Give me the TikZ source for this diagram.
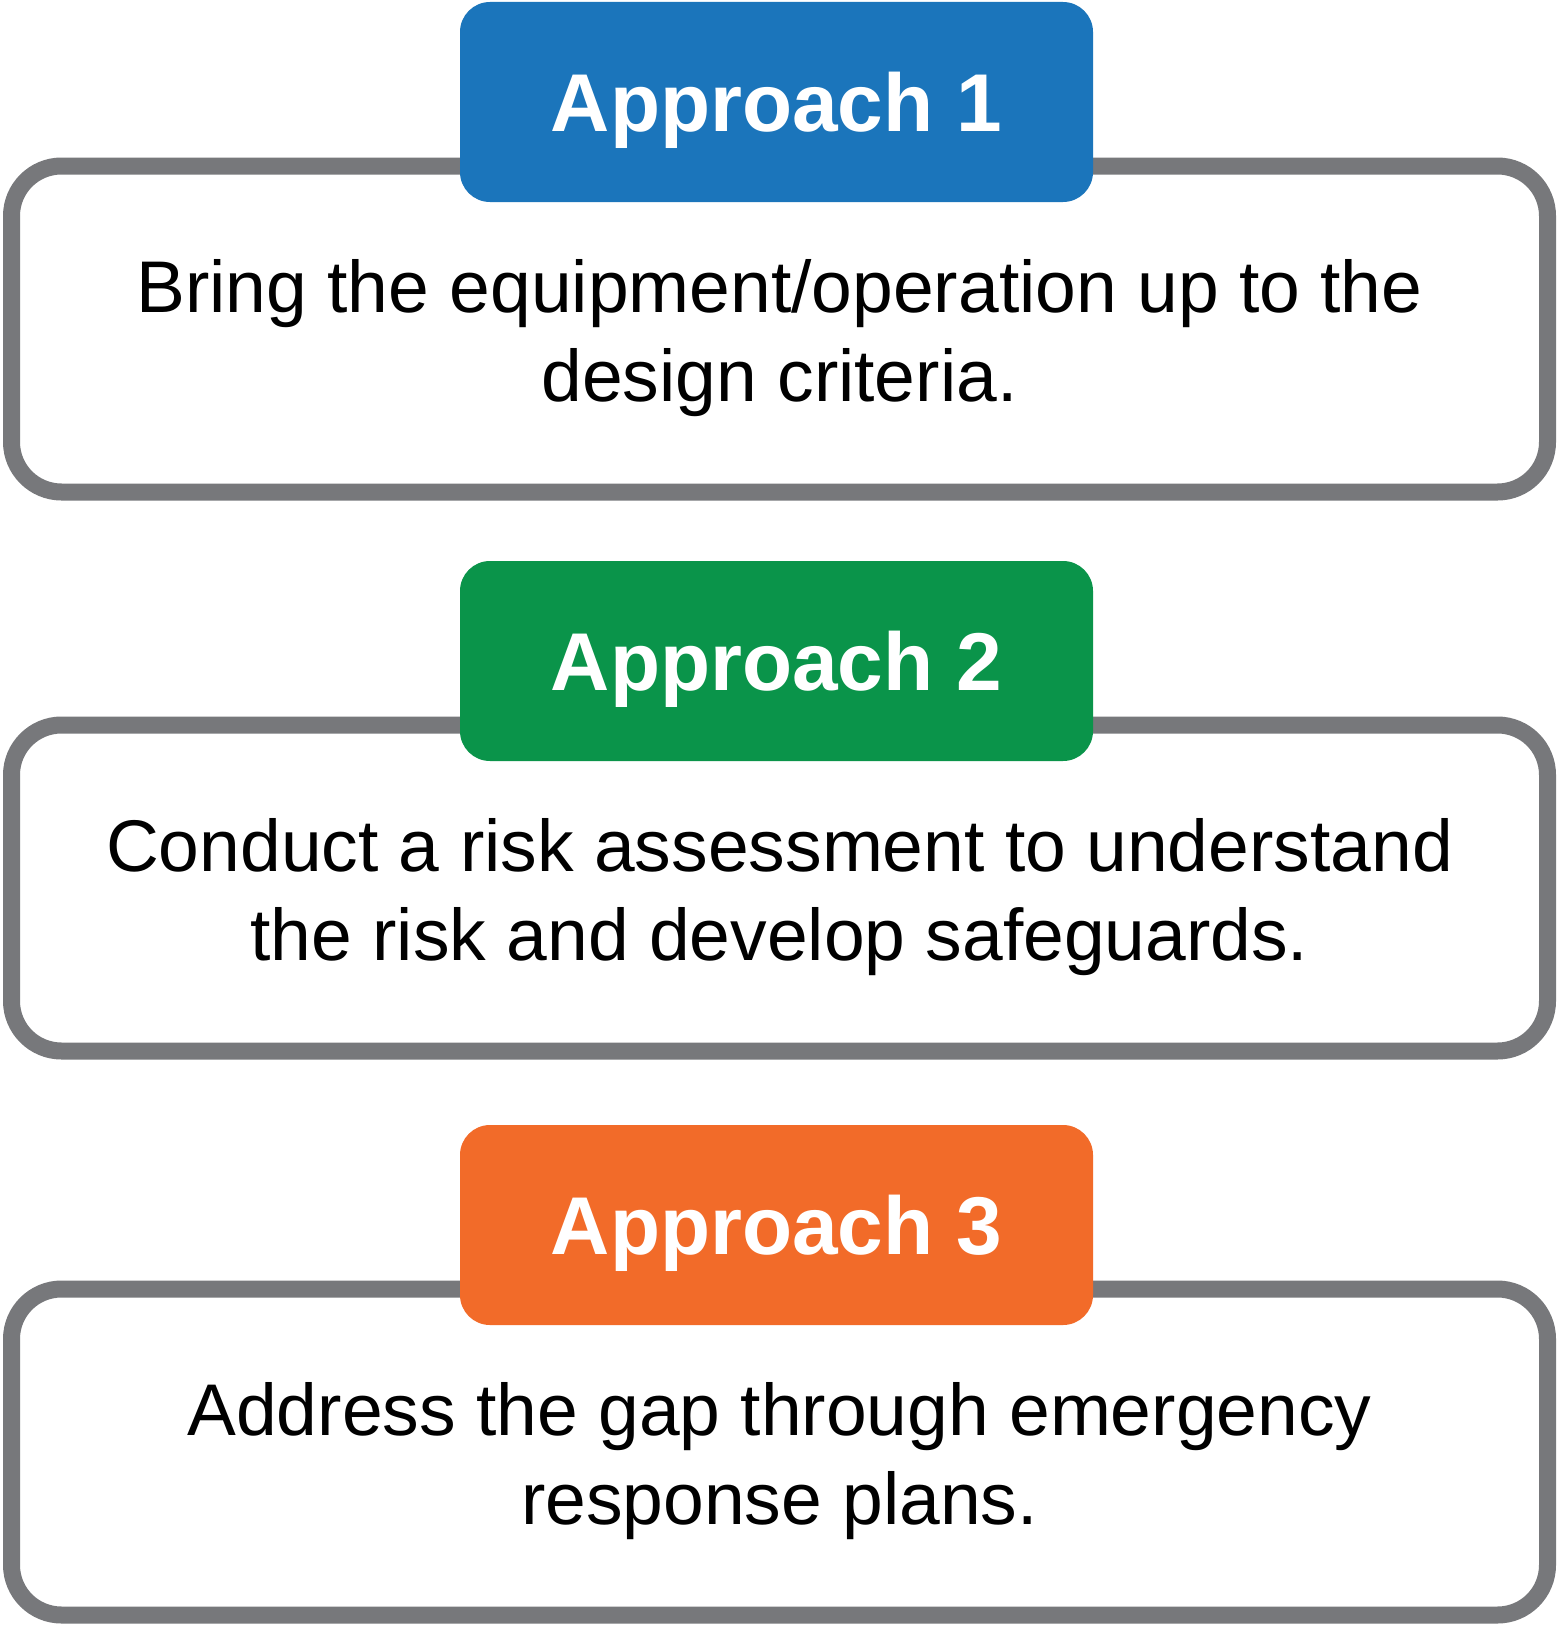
\documentclass[tikz,border=0pt]{standalone}
\usepackage{fontspec}
\setmainfont{Liberation Sans}
\usepackage{tikz}
\usetikzlibrary{positioning}

\definecolor{apblue}{HTML}{1B75BB}
\definecolor{apgreen}{HTML}{0A944A}
\definecolor{aporange}{HTML}{F26B29}
\definecolor{framegray}{HTML}{77787B}

\begin{document}
\begin{tikzpicture}[x=0.5pt, y=-0.5pt,
    body/.style={draw=framegray, line width=8.5pt, fill=white, rounded corners=25pt,
        minimum width=768pt, minimum height=163pt, outer sep=0pt, inner sep=0pt},
    bodytext/.style={align=center, inner sep=0pt, font=\fontsize{36.6pt}{44.5pt}\selectfont},
    header/.style={text=white, rounded corners=15pt, minimum width=316.5pt, minimum height=100pt,
        outer sep=0pt, inner sep=0pt, text height=29.3pt, text depth=0pt,
        font=\fontsize{41pt}{49pt}\selectfont\bfseries}]

\useasboundingbox (0,0) rectangle (1558,1627);

% Frames with their text
\foreach \i/\y/\txt in {1/329/{Bring the equipment/operation up to the\\design criteria.},
                        2/888/{Conduct a risk assessment to understand\\the risk and develop safeguards.},
                        3/1452/{Address the gap through emergency\\response plans.}} {
    \node[body] (box\i) at (779.5,\y) {};
    \node[bodytext] (text\i) at ([yshift=-4.5pt]box\i.center) {\txt};
}

% Approach labels
\foreach \i/\col in {1/apblue, 2/apgreen, 3/aporange} {
    \node[header, fill=\col, above=-18pt of box\i.north, xshift=-1.5pt] (head\i) {Approach \i};
}

\end{tikzpicture}
\end{document}
